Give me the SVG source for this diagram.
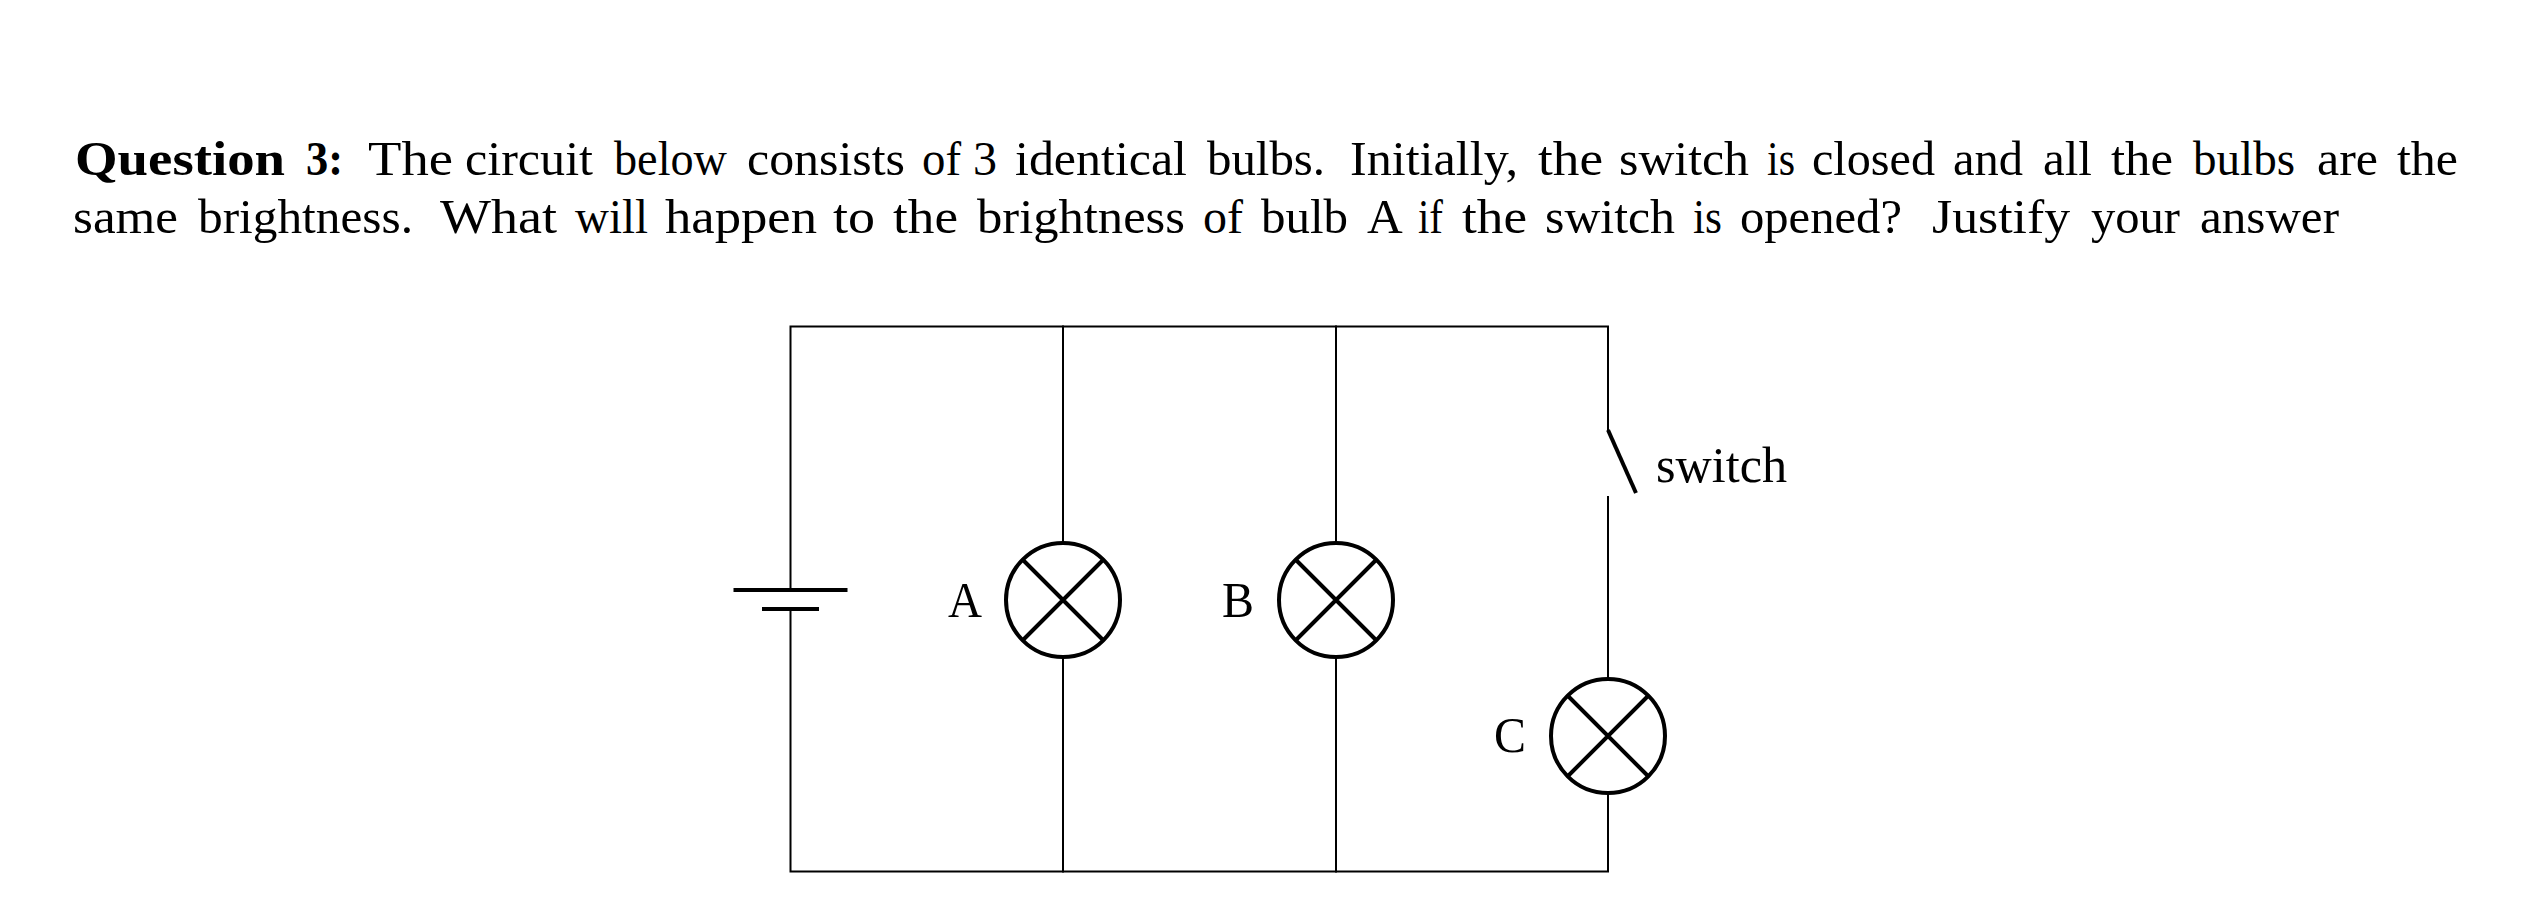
<svg xmlns="http://www.w3.org/2000/svg" width="2538" height="920" viewBox="0 0 2538 920">
<style>
text{font-family:"Liberation Serif",serif;fill:#000}
.q{font-size:48px}
.b{font-weight:bold}
.l{font-size:50px}
.w{stroke:#000;stroke-width:2;fill:none;stroke-linecap:square}
.t{stroke:#000;stroke-width:4;fill:none}
</style>
<defs>
<g id="bulb"><circle r="57" fill="#fff" stroke="#000" stroke-width="4"/><path d="M-40-40L40 40M-40 40L40-40" stroke="#000" stroke-width="4" fill="none"/></g>
</defs>
<rect width="2538" height="920" fill="#fff"/>
<g id="question">
<text class="q" y="175"><tspan class="b" x="75" textLength="210" lengthAdjust="spacingAndGlyphs">Question</tspan> <tspan class="b" x="306" textLength="37" lengthAdjust="spacingAndGlyphs">3:</tspan> <tspan x="368" textLength="85" lengthAdjust="spacingAndGlyphs">The</tspan> <tspan x="465" textLength="128" lengthAdjust="spacingAndGlyphs">circuit</tspan> <tspan x="614" textLength="113" lengthAdjust="spacingAndGlyphs">below</tspan> <tspan x="747" textLength="158" lengthAdjust="spacingAndGlyphs">consists</tspan> <tspan x="922" textLength="39" lengthAdjust="spacingAndGlyphs">of</tspan> <tspan x="973" textLength="24" lengthAdjust="spacingAndGlyphs">3</tspan> <tspan x="1015" textLength="172" lengthAdjust="spacingAndGlyphs">identical</tspan> <tspan x="1207" textLength="118" lengthAdjust="spacingAndGlyphs">bulbs.</tspan> <tspan x="1350" textLength="168" lengthAdjust="spacingAndGlyphs">Initially,</tspan> <tspan x="1538" textLength="65" lengthAdjust="spacingAndGlyphs">the</tspan> <tspan x="1619" textLength="130" lengthAdjust="spacingAndGlyphs">switch</tspan> <tspan x="1767" textLength="28" lengthAdjust="spacingAndGlyphs">is</tspan> <tspan x="1812" textLength="123" lengthAdjust="spacingAndGlyphs">closed</tspan> <tspan x="1953" textLength="70" lengthAdjust="spacingAndGlyphs">and</tspan> <tspan x="2043" textLength="49" lengthAdjust="spacingAndGlyphs">all</tspan> <tspan x="2111" textLength="62" lengthAdjust="spacingAndGlyphs">the</tspan> <tspan x="2193" textLength="102" lengthAdjust="spacingAndGlyphs">bulbs</tspan> <tspan x="2317" textLength="61" lengthAdjust="spacingAndGlyphs">are</tspan> <tspan x="2397" textLength="61" lengthAdjust="spacingAndGlyphs">the</tspan></text>
<text class="q" y="233"><tspan x="73" textLength="105" lengthAdjust="spacingAndGlyphs">same</tspan> <tspan x="198" textLength="215" lengthAdjust="spacingAndGlyphs">brightness.</tspan> <tspan x="440" textLength="117" lengthAdjust="spacingAndGlyphs">What</tspan> <tspan x="575" textLength="73" lengthAdjust="spacingAndGlyphs">will</tspan> <tspan x="665" textLength="152" lengthAdjust="spacingAndGlyphs">happen</tspan> <tspan x="833" textLength="42" lengthAdjust="spacingAndGlyphs">to</tspan> <tspan x="893" textLength="65" lengthAdjust="spacingAndGlyphs">the</tspan> <tspan x="977" textLength="208" lengthAdjust="spacingAndGlyphs">brightness</tspan> <tspan x="1203" textLength="40" lengthAdjust="spacingAndGlyphs">of</tspan> <tspan x="1261" textLength="87" lengthAdjust="spacingAndGlyphs">bulb</tspan> <tspan x="1367" textLength="33" lengthAdjust="spacingAndGlyphs">A</tspan> <tspan x="1418" textLength="25" lengthAdjust="spacingAndGlyphs">if</tspan> <tspan x="1462" textLength="65" lengthAdjust="spacingAndGlyphs">the</tspan> <tspan x="1545" textLength="130" lengthAdjust="spacingAndGlyphs">switch</tspan> <tspan x="1693" textLength="29" lengthAdjust="spacingAndGlyphs">is</tspan> <tspan x="1740" textLength="162" lengthAdjust="spacingAndGlyphs">opened?</tspan> <tspan x="1932" textLength="138" lengthAdjust="spacingAndGlyphs">Justify</tspan> <tspan x="2091" textLength="89" lengthAdjust="spacingAndGlyphs">your</tspan> <tspan x="2200" textLength="139" lengthAdjust="spacingAndGlyphs">answer</tspan></text>
</g>
<g id="connectors">
<path class="w" d="M790.500 590V326.500H1608V430M1608 497V679M1608 793V871.500H790.500V609"/>
<path class="w" d="M1063 326.500V543M1063 657V871.500M1336 326.500V543M1336 657V871.500"/>
</g>
<g id="battery"><path class="t" d="M733.500 590H847.500M762 609H819"/></g>
<g id="switch"><path class="t" d="M1608 430L1636 493"/><text class="l" x="1656" y="482" textLength="131" lengthAdjust="spacingAndGlyphs">switch</text></g>
<g id="bulb-a"><use href="#bulb" x="1063" y="600"/><text class="l" x="948" y="617" textLength="34" lengthAdjust="spacingAndGlyphs">A</text></g>
<g id="bulb-b"><use href="#bulb" x="1336" y="600"/><text class="l" x="1222" y="617" textLength="32" lengthAdjust="spacingAndGlyphs">B</text></g>
<g id="bulb-c"><use href="#bulb" x="1608" y="736"/><text class="l" x="1494" y="752" textLength="32" lengthAdjust="spacingAndGlyphs">C</text></g>
</svg>
